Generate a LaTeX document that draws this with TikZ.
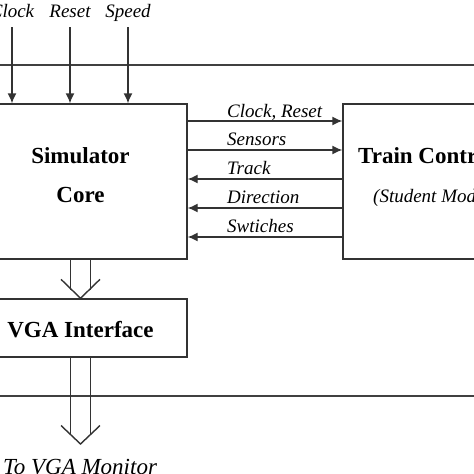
\documentclass[tikz,border=0pt]{standalone}
\usepackage{fontspec}
\setmainfont{Liberation Serif}
\usetikzlibrary{arrows.meta,calc}
\begin{document}
\begin{tikzpicture}[x=1pt,y=-1pt,
  ln/.style={draw=black!80, line width=1.4pt},
  frame/.style={draw=black!75, line width=1.2pt},
  box/.style={draw=black!80, line width=1.4pt, rectangle, inner sep=0pt},
  sig/.style={ln, -{Latex[length=10pt,width=9pt]}},
  lbl/.style={font=\fontsize{19}{19}\selectfont\itshape, inner sep=0pt},
  biglbl/.style={font=\fontsize{23}{23}\selectfont\itshape, inner sep=0pt},
  ttl/.style={font=\fontsize{23}{23}\selectfont\bfseries, inner sep=0pt},
]
\useasboundingbox (0,0) rectangle (474,474);
\fill[white] (0,0) rectangle (474,474);

% frame lines
\coordinate (ftl) at (0,65);
\coordinate (ftr) at (474,65);
\coordinate (fbl) at (0,396);
\coordinate (fbr) at (474,396);
\draw[frame] (ftl) -- (ftr);
\draw[frame] (fbl) -- (fbr);

% boxes
\node[box, minimum width=213pt, minimum height=155pt] (core) at (80.5,181.5) {};
\node[box, minimum width=277pt, minimum height=155pt] (tc) at (481.5,181.5) {};
\node[box, minimum width=213pt, minimum height=58pt] (vga) at (80.5,328) {};

% box texts
\node[ttl, anchor=base] (coret1) at (80.5,163) {Simulator};
\node[ttl, anchor=base] (coret2) at (80.5,202) {Core};
\node[ttl, anchor=base west] (tct1) at (358,163) {Train Controller};
\node[lbl, anchor=base west] (tct2) at (373,202) {(Student Module)};
\node[ttl, anchor=base] (vgat) at (80.5,337) {VGA Interface};

% inputs
\node[lbl, anchor=base] (inclk) at (12,17) {Clock};
\node[lbl, anchor=base] (inrst) at (70,17) {Reset};
\node[lbl, anchor=base] (inspd) at (128,17) {Speed};
\coordinate (sclk) at (12,27);
\coordinate (srst) at (70,27);
\coordinate (sspd) at (128,27);
\draw[sig] (sclk) -- (sclk |- core.north);
\draw[sig] (srst) -- (srst |- core.north);
\draw[sig] (sspd) -- (sspd |- core.north);

% side signals
\coordinate (y1) at (0,121);
\coordinate (y2) at (0,150);
\coordinate (y3) at (0,179);
\coordinate (y4) at (0,208);
\coordinate (y5) at (0,237);
\draw[sig] (core.east |- y1) -- (tc.west |- y1);
\draw[sig] (core.east |- y2) -- (tc.west |- y2);
\draw[sig] (tc.west |- y3) -- (core.east |- y3);
\draw[sig] (tc.west |- y4) -- (core.east |- y4);
\draw[sig] (tc.west |- y5) -- (core.east |- y5);
\node[lbl, anchor=base west] (l1) at (227,117) {Clock, Reset};
\node[lbl, anchor=base west] (l2) at (227,145.5) {Sensors};
\node[lbl, anchor=base west] (l3) at (227,174.5) {Track};
\node[lbl, anchor=base west] (l4) at (227,203.5) {Direction};
\node[lbl, anchor=base west] (l5) at (227,232.5) {Swtiches};

% double arrow core -> vga
\draw[ln] ($(core.south)+(-10,0)$) -- ++(0,30);
\draw[ln] ($(core.south)+(10,0)$) -- ++(0,30);
\draw[ln] ($(vga.north)+(-19.5,-19)$) -- (vga.north) -- ($(vga.north)+(19.5,-19)$);

% double arrow vga -> monitor
\coordinate (mon) at (80.5,444);
\draw[ln] ($(vga.south)+(-10,0)$) -- ($(mon)+(-10,-9)$);
\draw[ln] ($(vga.south)+(10,0)$) -- ($(mon)+(10,-9)$);
\draw[ln] ($(mon)+(-19.5,-18.5)$) -- (mon) -- ($(mon)+(19.5,-18.5)$);
\node[biglbl, anchor=base west] (montxt) at (3,474) {To VGA Monitor};
\end{tikzpicture}
\end{document}
